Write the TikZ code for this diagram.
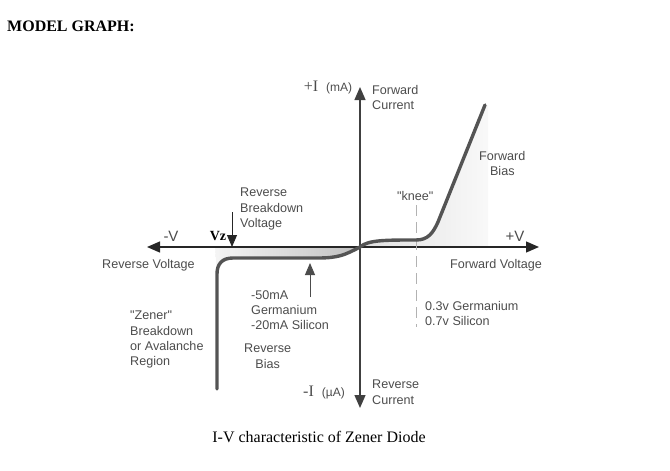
\documentclass[tikz,border=0pt]{standalone}
\usepackage{fontspec}
\setmainfont{Liberation Serif}
\newfontfamily\labelfont{Liberation Sans}
\usetikzlibrary{arrows.meta}
\usetikzlibrary{calc}
\definecolor{labelgray}{gray}{0.3}
\definecolor{curvegray}{gray}{0.33}
\tikzset{
    lbl/.style={text=labelgray,font=\labelfont\fontsize{12.6}{15.2}\selectfont,align=left,anchor=north west,inner sep=0pt},
    sign/.style={text=labelgray,inner sep=0pt},
    head/.style={inner sep=0pt,text=black},
    axisline/.style={-{Triangle[length=13pt,width=11pt]},line width=1.3pt},
    pointer/.style={-{Triangle[length=12pt,width=10pt]},line width=0.9pt},
    curve/.style={line width=3.4pt,curvegray,line cap=round}
}
\begin{document}
\begin{tikzpicture}[x=1pt,y=-1pt]
                    \useasboundingbox (0,0) rectangle (670,471);
                    \coordinate (O) at (360,247);
                    \coordinate (top) at (360,87);
                    \coordinate (bottom) at (360,408);
                    \coordinate (left) at (147,247);
                    \coordinate (right) at (539,247);
                    \coordinate (end) at (217,389);
                    \coordinate (peak) at (485,105);
                    \coordinate (kneetop) at (416,205);
                    \coordinate (kneebottom) at (416,327);
                    % shaded bias regions
                    \shade[left color=gray!8,right color=gray!50] (215,247) -- (O) .. controls (345,255) and (338,258) .. (318,258) -- (233,258) .. controls (222,258) and (217,264) .. (217,274) -- cycle;
                    \shade[left color=gray!24,right color=gray!5] (O) .. controls (368,240) and (385,240) .. (416,240) .. controls (428,240) and (433,233) .. (438,222) -- (peak) -- (488,105) -- (488,247) -- cycle;
                    % axes
                    \draw[axisline,black!75] (O) -- (top);
                    \draw[axisline,black!75] (O) -- (bottom);
                    \draw[axisline,black!85] (O) -- (left);
                    \draw[axisline,black!85] (O) -- (right);
                    % knee marker
                    \draw[gray!60,dash pattern=on 11pt off 6pt,line width=1pt] (kneetop) -- (kneebottom);
                    % curve
                    \draw[curve] (end) -- (217,274) .. controls (217,264) and (222,258) .. (233,258) -- (318,258) .. controls (338,258) and (345,255) .. (O) .. controls (368,240) and (385,240) .. (416,240) .. controls (428,240) and (433,233) .. (438,222) -- (peak);
                    % labels
                    \node[head,font=\bfseries\fontsize{14}{14}\selectfont] (vz) at (218,236) {Vz};
                    \coordinate (vzstart) at (232,212);
                    \coordinate (vzend) at (232,247);
                    \draw[pointer,black!85] (vzstart) -- (vzend);
                    \coordinate (leakstart) at (310,297);
                    \coordinate (leakend) at (310,263);
                    \draw[pointer,black!70] (leakstart) -- (leakend);
                    \node[sign,font=\labelfont\fontsize{15}{15}\selectfont] (minusv) at (171,236) {-V};
                    \node[sign,font=\labelfont\fontsize{15}{15}\selectfont] (plusv) at (515,236) {+V};
                    \node[sign] (plusi) at (328,88) {\fontsize{16}{15}\selectfont +I\ \ \labelfont\fontsize{12}{15}\selectfont (mA)};
                    \node[sign] (minusi) at (324,393) {\fontsize{16}{15}\selectfont -I\ \ \labelfont\fontsize{12}{15}\selectfont (µA)};
                    \node[lbl] (fwdcurrent) at (372,85) {Forward\\Current};
                    \node[lbl] (revcurrent) at (372,380) {Reverse\\Current};
                    \node[lbl,align=center] (fwdbias) at (479,151) {Forward\\Bias};
                    \node[lbl] (knee) at (397,191) {"knee"};
                    \node[lbl] (fwdvolt) at (450,259) {Forward Voltage};
                    \node[lbl] (revvolt) at (102,259) {Reverse Voltage};
                    \node[lbl] (breakdown) at (240,188) {Reverse\\Breakdown\\Voltage};
                    \node[lbl] (zener) at (130,311) {"Zener"\\Breakdown\\or Avalanche\\Region};
                    \node[lbl] (leak) at (251,290) {-50mA\\Germanium\\-20mA Silicon};
                    \node[lbl,align=center] (revbias) at (244,344) {Reverse\\Bias};
                    \node[lbl] (volts) at (425,301) {0.3v Germanium\\0.7v Silicon};
                    % page text
                    \node[head,anchor=west,font=\bfseries\fontsize{16}{18}\selectfont] (title) at (7,26) {MODEL GRAPH:};
                    \node[head,font=\fontsize{16}{18}\selectfont] (caption) at (319,437) {I-V characteristic of Zener Diode};
                \end{tikzpicture}
\end{document}
